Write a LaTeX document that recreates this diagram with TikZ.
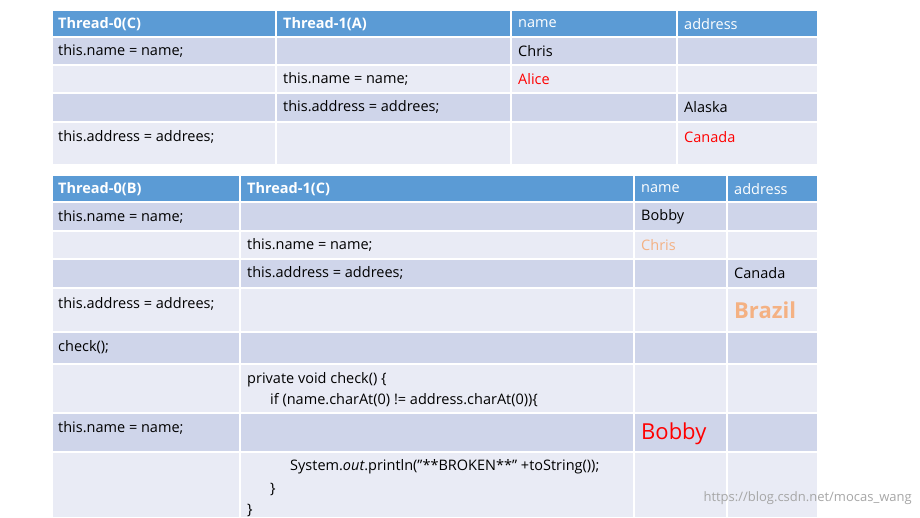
\documentclass[tikz,border=0pt]{standalone}
\usepackage{fontspec}
\setmainfont{Open Sans}
\definecolor{hd}{HTML}{5B9BD5}
\definecolor{da}{HTML}{CFD5EA}
\definecolor{lt}{HTML}{E9EBF5}
\definecolor{org}{HTML}{F4B183}
\begin{document}
\begin{tikzpicture}[x=1pt,y=-1pt,
  cellbox/.style={draw=white,line width=1.2pt,inner sep=0pt,outer sep=0pt},
  txt/.style={anchor=west,inner sep=0pt,font=\fontsize{14.5}{16}\selectfont},
  htxt/.style={txt,text=white},
  hbold/.style={htxt,font=\fontsize{14.5}{16}\selectfont\bfseries}]
\useasboundingbox (0,0) rectangle (920,518);
\newcommand\cbx[6]{\node[cellbox,fill=#6,minimum width={#4-#2},minimum height={#5-#3}] (#1) at ({(#2+#4)/2},{(#3+#5)/2}) {};}
% table 1
\foreach \r/\ya/\yb/\c in {0/10/37/hd,1/37/65/da,2/65/93/lt,3/93/122/da,4/122/165/lt}{
  \foreach \k/\xa/\xb in {a/52/276,b/276/511,c/511/677,d/677/818}{
    \cbx{t\r\k}{\xa}{\ya}{\xb}{\yb}{\c}}}
\node[hbold] (h1) at (58,24) {Thread-0(C)};
\node[hbold] (h2) at (283,24) {Thread-1(A)};
\node[htxt] (h3) at (518,24) {name};
\node[htxt] (h4) at (684,24) {address};
\node[txt] (a1) at (58,51) {this.name = name;};
\node[txt] (a2) at (518,51) {Chris};
\node[txt] (a3) at (283,79) {this.name = name;};
\node[txt,text=red] (a4) at (518,79) {Alice};
\node[txt] (a5) at (283,107) {this.address = addrees;};
\node[txt] (a6) at (684,107) {Alaska};
\node[txt] (a7) at (58,137) {this.address = addrees;};
\node[txt,text=red] (a8) at (684,137) {Canada};
% table 2
\foreach \r/\ya/\yb/\c in {0/175/202/hd,1/202/231/da,2/231/259/lt,3/259/288/da,4/288/332/lt,5/332/364/da,6/364/413/lt,7/413/452/da,8/452/518/lt}{
  \foreach \k/\xa/\xb in {a/52/240,b/240/634,c/634/727,d/727/818}{
    \cbx{s\r\k}{\xa}{\ya}{\xb}{\yb}{\c}}}
\node[hbold] (g1) at (58,189) {Thread-0(B)};
\node[hbold] (g2) at (247,189) {Thread-1(C)};
\node[htxt] (g3) at (641,189) {name};
\node[htxt] (g4) at (734,189) {address};
\node[txt] (b1) at (58,217) {this.name = name;};
\node[txt] (b2) at (641,217) {Bobby};
\node[txt] (b3) at (247,245) {this.name = name;};
\node[txt,text=org] (b4) at (641,245) {Chris};
\node[txt] (b5) at (247,273) {this.address = addrees;};
\node[txt] (b6) at (734,273) {Canada};
\node[txt] (b7) at (58,304) {this.address = addrees;};
\node[txt,text=org,font=\fontsize{22}{26}\selectfont\bfseries] (b8) at (734,310) {Brazil};
\node[txt] (b9) at (58,347) {check();};
\node[txt] (b10) at (247,380) {private void check() \{};
\node[txt] (b11) at (270,400) {if (name.charAt(0) != address.charAt(0))\{};
\node[txt] (b12) at (58,428) {this.name = name;};
\node[txt,text=red,font=\fontsize{22}{26}\selectfont] (b13) at (641,434) {Bobby};
\node[txt] (b14) at (290,467) {System.\textit{out}.println("**BROKEN**" +toString());};
\node[txt] (b15) at (270,489) {\}};
\node[txt] (b16) at (247,510) {\}};
\node[anchor=east,inner sep=0pt,text=gray!70,font=\fontsize{13}{15}\selectfont] (wm) at (912,498) {https://blog.csdn.net/mocas\_wang};
\end{tikzpicture}
\end{document}
